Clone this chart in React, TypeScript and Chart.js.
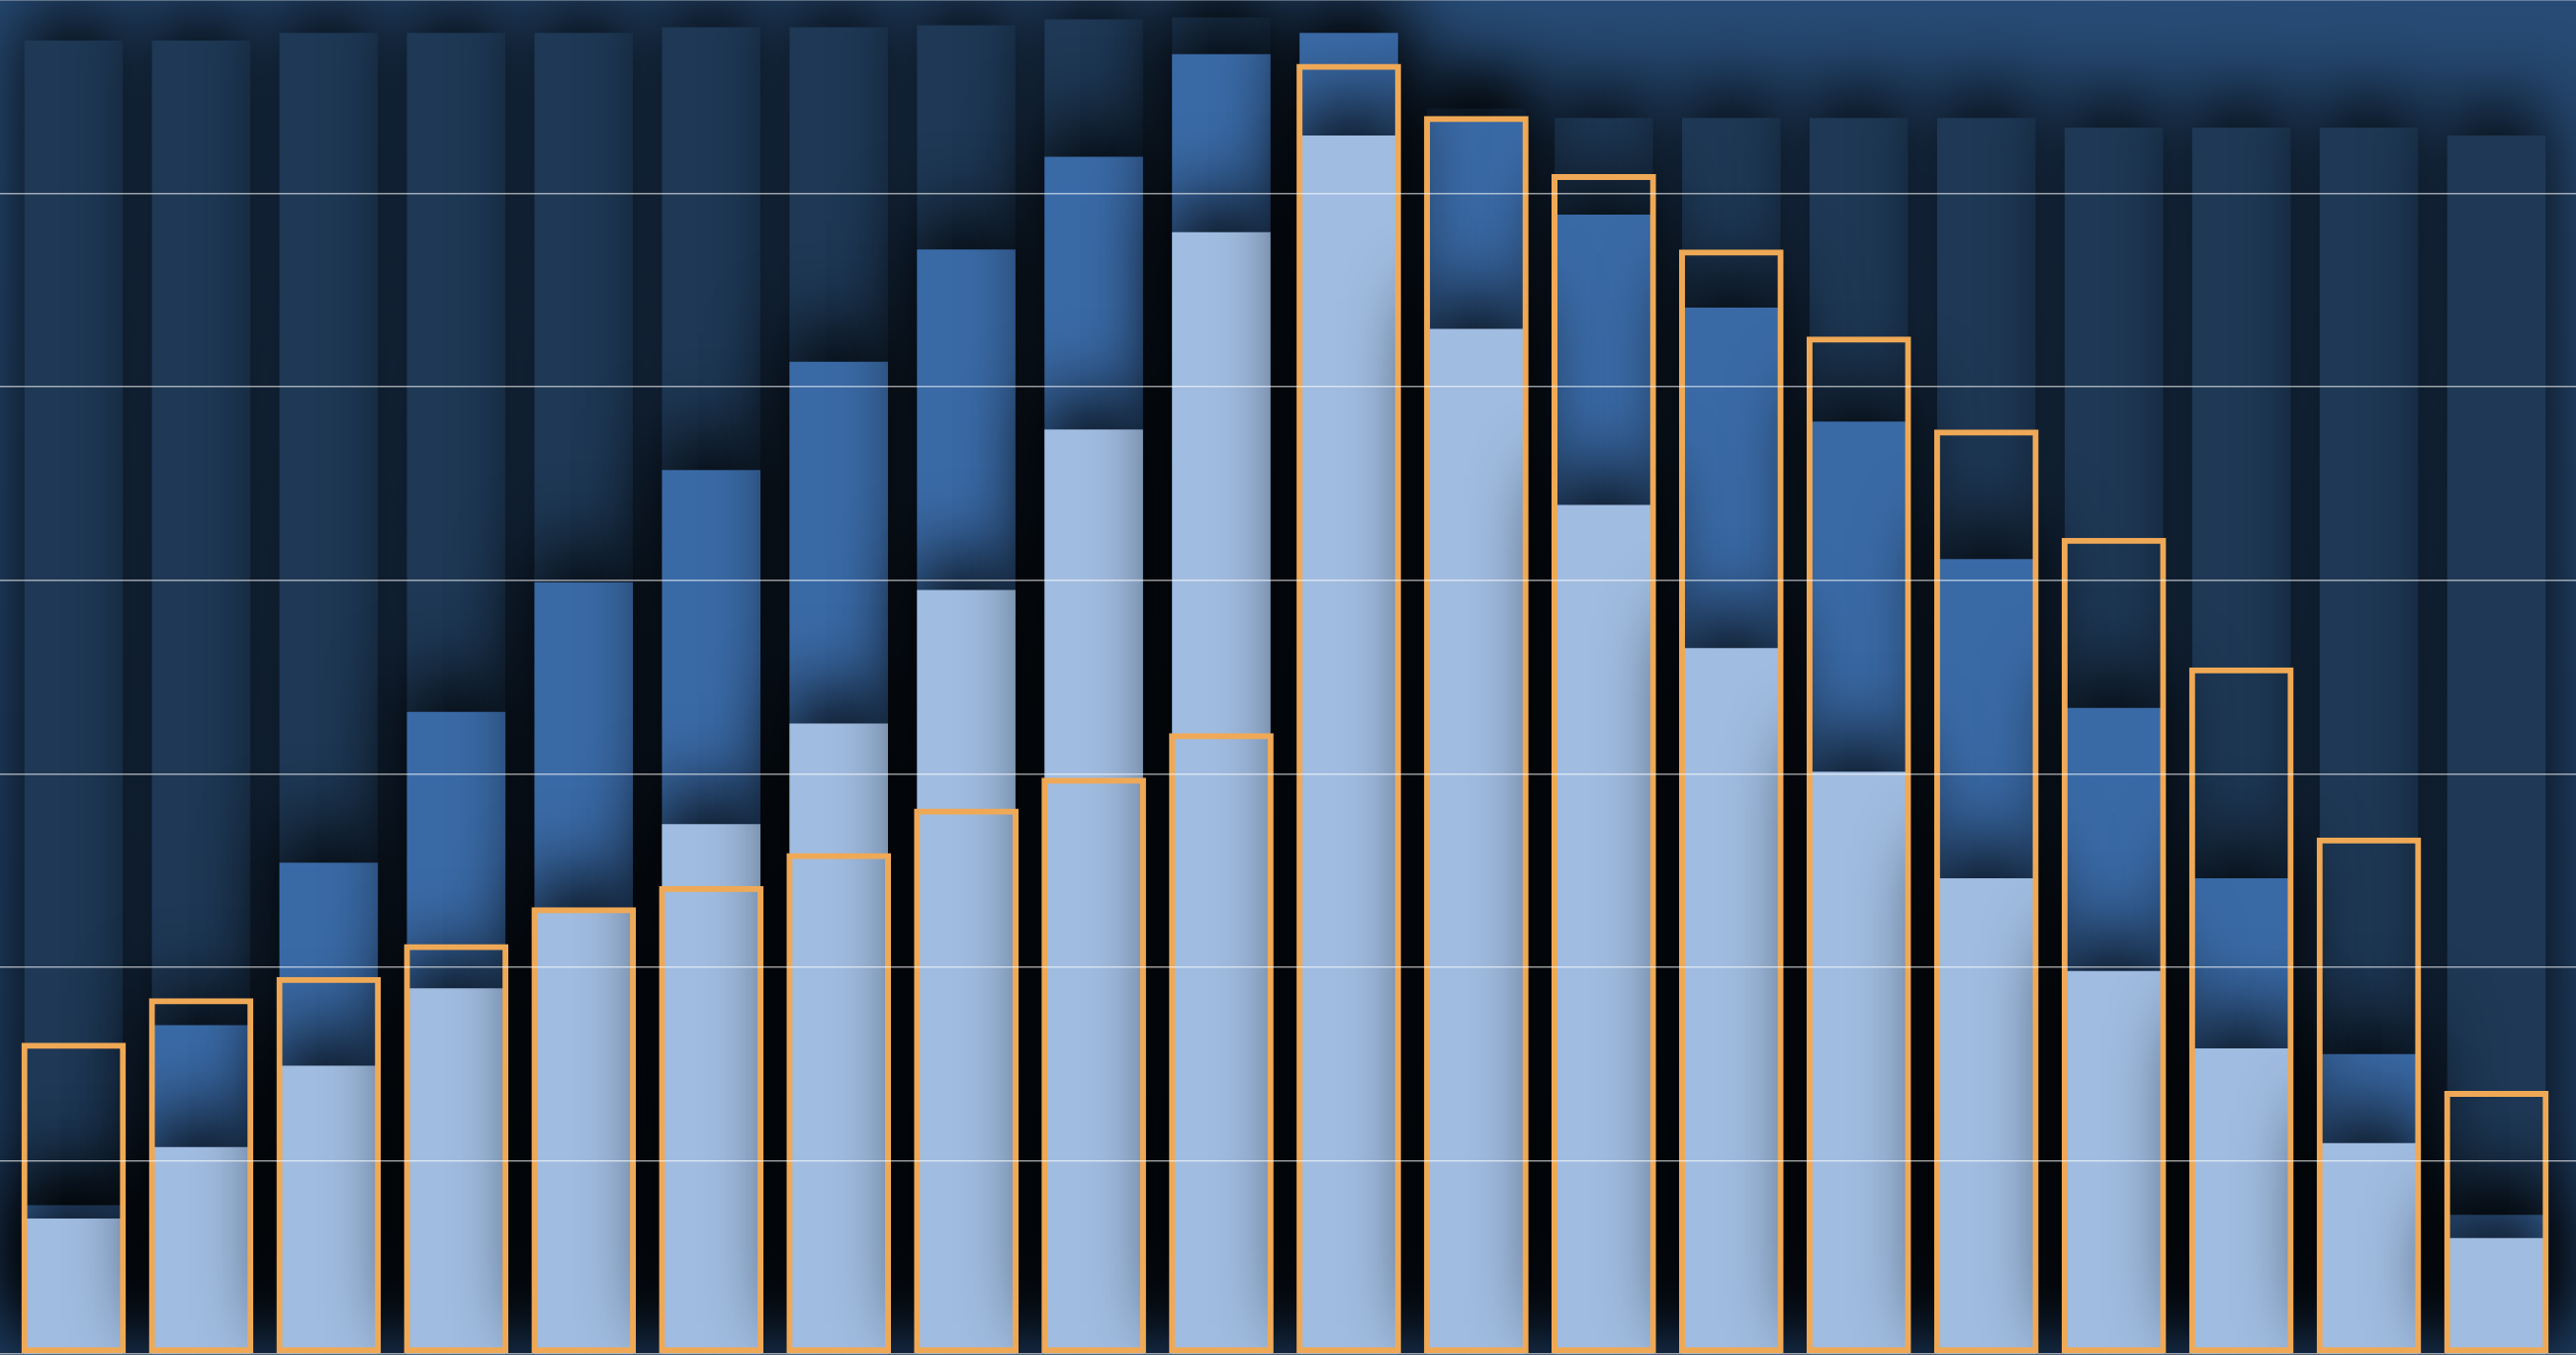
import React, { useEffect, useRef } from "react";
import { Chart, registerables } from "chart.js";

Chart.register(...registerables);

// ---- data ----
const categories = [
  "1", "2", "3", "4", "5", "6", "7", "8", "9", "10",
  "11", "12", "13", "14", "15", "16", "17", "18", "19", "20",
];

const capacityValues = [
  67.9, 67.9, 68.3, 68.3, 68.3, 68.6, 68.6, 68.7, 69.0, 69.1,
  66.9, 64.4, 63.9, 63.9, 63.9, 63.9, 63.4, 63.4, 63.4, 63.0,
];

const secondaryValues = [
  7.7, 17.0, 25.4, 33.2, 39.9, 45.7, 51.3, 57.1, 61.9, 67.2,
  68.3, 63.9, 58.9, 54.1, 48.2, 41.1, 33.4, 24.6, 15.5, 7.2,
];

const primaryValues = [
  7.0, 10.7, 14.9, 18.9, 23.0, 27.4, 32.6, 39.5, 47.8, 58.0,
  63.0, 53.0, 43.9, 36.5, 30.1, 24.6, 19.8, 15.8, 10.9, 6.0,
];

const targetValues = [
  16.1, 18.4, 19.5, 21.2, 23.1, 24.2, 25.9, 28.2, 29.8, 32.1,
  66.7, 64.0, 61.0, 57.1, 52.6, 47.8, 42.2, 35.5, 26.7, 13.6,
];

const yMin = 0;
const yMax = 70;
const yStep = 10;

const gridColor = "rgba(255,255,255,0.58)";

const shadowPlugin = {
  id: "barShadow",
  beforeDatasetDraw(chart: any, args: any) {
    const ctx = chart.ctx;
    ctx.save();
    const ds = chart.data.datasets[args.index];
    if (ds && ds.castShadow) {
      ctx.shadowColor = "rgba(0,0,0,0.95)";
      ctx.shadowBlur = 78;
      ctx.shadowOffsetX = 0;
      ctx.shadowOffsetY = -30;
    }
  },
  afterDatasetDraw(chart: any) {
    chart.ctx.restore();
  },
};

export default function App() {
  const canvasRef = useRef<HTMLCanvasElement | null>(null);

  useEffect(() => {
    const canvas = canvasRef.current;
    if (!canvas) return;
    const common = { categoryPercentage: 1, clip: false, yAxisID: "y" };
    const chart = new Chart(canvas, {
      type: "bar",
      data: {
        labels: categories,
        datasets: [
          {
            ...common,
            label: "Target",
            data: targetValues,
            backgroundColor: "rgba(0,0,0,0)",
            borderColor: "#efa956",
            borderWidth: 6,
            borderSkipped: false,
            barPercentage: 0.82,
            order: 0,
          } as any,
          {
            ...common,
            label: "Primary",
            data: primaryValues,
            backgroundColor: "#a0bce0",
            borderWidth: 0,
            barPercentage: 0.7725,
            order: 1,
            castShadow: true,
          } as any,
          {
            ...common,
            label: "Secondary",
            data: secondaryValues,
            backgroundColor: "#3a6aa6",
            borderWidth: 0,
            barPercentage: 0.7725,
            order: 2,
            castShadow: true,
          } as any,
          {
            ...common,
            label: "Capacity",
            data: capacityValues,
            backgroundColor: "#1e3855",
            borderWidth: 0,
            barPercentage: 0.7725,
            order: 3,
            castShadow: true,
          } as any,
        ],
      },
      options: {
        responsive: false,
        animation: false,
        layout: { padding: { left: 0, right: 0, top: 0, bottom: 1 } },
        plugins: {
          legend: { display: false },
          tooltip: { enabled: false },
        },
        datasets: { bar: { grouped: false } } as any,
        scales: {
          x: {
            display: false,
            offset: true,
          },
          y: {
            position: "left",
            min: yMin,
            max: yMax,
            border: { display: false },
            ticks: { display: false, stepSize: yStep },
            grid: {
              z: 1,
              color: gridColor,
              lineWidth: 1.5,
              drawTicks: true,
              tickLength: 10,
            } as any,
          },
          y2: {
            position: "right",
            min: yMin,
            max: yMax,
            border: { display: false },
            ticks: { display: false, stepSize: yStep },
            grid: {
              z: 1,
              color: gridColor,
              lineWidth: 1.5,
              drawTicks: true,
              drawOnChartArea: false,
              tickLength: 16,
            } as any,
          },
        },
      },
      plugins: [shadowPlugin],
    });
    return () => chart.destroy();
  }, []);

  return (
    <div
      style={{
        position: "fixed",
        left: 0,
        top: 0,
        width: 2605,
        height: 1370,
        background: "linear-gradient(180deg, #274b75 0%, #22436a 50%, #1e3c61 100%)",
        overflow: "hidden",
      }}
    >
      <canvas
        ref={canvasRef}
        width={2605}
        height={1370}
        style={{ display: "block", width: 2605, height: 1370 }}
      />
    </div>
  );
}
